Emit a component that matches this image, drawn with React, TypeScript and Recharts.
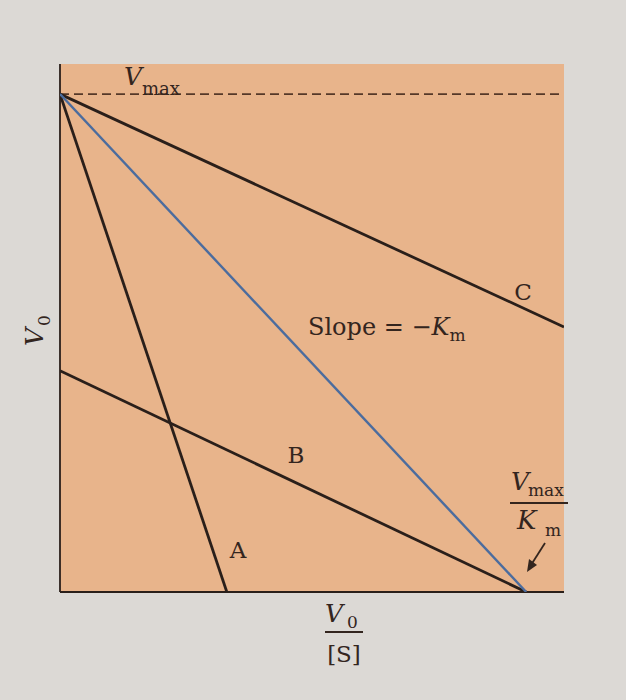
import React from "react";
import { LineChart, Line, XAxis, YAxis, CartesianGrid, ReferenceLine } from "recharts";

// Eadie–Hofstee plot: V0 versus V0/[S]
const vmaxLevel = 94.3;
const lineA = [
  { x: 0, y: 94.3 },
  { x: 33.1, y: 0 },
];
const lineBlue = [
  { x: 0, y: 94.3 },
  { x: 92.5, y: 0 },
];
const lineB = [
  { x: 0, y: 41.9 },
  { x: 92.5, y: 0 },
];
const lineC = [
  { x: 0, y: 94.3 },
  { x: 100, y: 50.2 },
];

const W = 626;
const H = 700;
const DARK = "#2a1f1a";
const BLUE = "#4b6c9e";
const PEACH = "#e8b48b";
const PAGE = "#dcd9d5";
const INK = "#33251e";
const FONT = "'DejaVu Serif', 'Liberation Serif', serif";

export default function App() {
  return (
    <div style={{ position: "absolute", left: 0, top: 0, width: W, height: H, background: PAGE }}>
      <div style={{ position: "absolute", left: 0, top: 0 }}>
        <LineChart width={W} height={H} margin={{ top: 64, right: 62, bottom: 108, left: 60 }}>
          <CartesianGrid horizontal={false} vertical={false} fill={PEACH} fillOpacity={1} stroke="none" />
          <XAxis type="number" dataKey="x" domain={[0, 100]} hide allowDataOverflow />
          <YAxis type="number" dataKey="y" domain={[0, 100]} hide allowDataOverflow />
          <ReferenceLine y={vmaxLevel} stroke="#553828" strokeWidth={1.8} strokeDasharray="9 5" />
          <ReferenceLine x={0} stroke={DARK} strokeWidth={1.8} />
          <ReferenceLine y={0} stroke={DARK} strokeWidth={1.8} />
          <Line data={lineC} dataKey="y" stroke={DARK} strokeWidth={2.8} dot={false} isAnimationActive={false} />
          <Line data={lineB} dataKey="y" stroke={DARK} strokeWidth={2.8} dot={false} isAnimationActive={false} />
          <Line data={lineA} dataKey="y" stroke={DARK} strokeWidth={2.8} dot={false} isAnimationActive={false} />
          <Line data={lineBlue} dataKey="y" stroke={BLUE} strokeWidth={2.4} dot={false} isAnimationActive={false} />
        </LineChart>
      </div>
      <svg
        width={W}
        height={H}
        style={{ position: "absolute", left: 0, top: 0, pointerEvents: "none" }}
        fontFamily={FONT}
        fill={INK}
      >
        {/* Vmax label */}
        <text x={124} y={85} fontSize={25} fontStyle="italic">V</text>
        <text x={142} y={95} fontSize={18}>max</text>

        {/* line labels */}
        <text x={523} y={300} fontSize={23} textAnchor="middle">C</text>
        <text x={296} y={463} fontSize={23} textAnchor="middle">B</text>
        <text x={238} y={558} fontSize={23} textAnchor="middle">A</text>

        {/* slope label */}
        <text x={308} y={335} fontSize={24}>
          Slope = −<tspan fontStyle="italic">K</tspan>
          <tspan fontSize={17} dy={6}>m</tspan>
        </text>

        {/* Vmax/Km fraction */}
        <text x={511} y={490} fontSize={25} fontStyle="italic">V</text>
        <text x={528} y={496} fontSize={17}>max</text>
        <line x1={510} y1={503} x2={568} y2={503} stroke={INK} strokeWidth={1.8} />
        <text x={517} y={529} fontSize={26} fontStyle="italic">K</text>
        <text x={545} y={536} fontSize={17}>m</text>
        <line x1={545} y1={543} x2={531} y2={565} stroke={INK} strokeWidth={1.8} />
        <path d="M 527 572 L 529 559 L 537 565 Z" fill={INK} />

        {/* x-axis label */}
        <text x={325} y={622} fontSize={25} fontStyle="italic">V</text>
        <text x={347} y={628} fontSize={17}>0</text>
        <line x1={325} y1={632} x2={363} y2={632} stroke={INK} strokeWidth={1.8} />
        <text x={344} y={662} fontSize={23} textAnchor="middle">[S]</text>

        {/* y-axis label */}
        <g transform="translate(43 346) rotate(-90)">
          <text x={0} y={0} fontSize={25} fontStyle="italic">V</text>
          <text x={20} y={7} fontSize={17}>0</text>
        </g>
      </svg>
    </div>
  );
}
